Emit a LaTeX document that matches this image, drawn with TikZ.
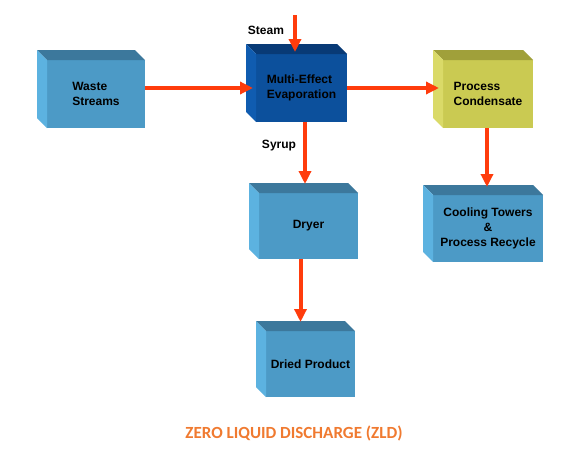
\documentclass[tikz,border=0pt]{standalone}
\usepackage{fontspec}
\setmainfont{Liberation Sans}
\newfontfamily\titlefont{Carlito}
\usetikzlibrary{arrows.meta,calc}
\definecolor{bluefront}{RGB}{76,154,198}
\definecolor{bluetop}{RGB}{60,120,156}
\definecolor{blueleft}{RGB}{92,178,224}
\definecolor{meefront}{RGB}{12,80,156}
\definecolor{meetop}{RGB}{8,58,118}
\definecolor{meeleft}{RGB}{16,92,176}
\definecolor{pcfront}{RGB}{202,202,82}
\definecolor{pctop}{RGB}{160,160,58}
\definecolor{pcleft}{RGB}{218,218,104}
\definecolor{flowred}{RGB}{255,60,12}
\definecolor{titleorange}{RGB}{240,122,48}
\tikzset{
  front/.style={inner sep=0pt, outer sep=0pt, font=\fontsize{12}{15}\selectfont\bfseries},
  flow/.style={draw=flowred, line width=4pt, -{Triangle[length=13pt,width=12pt]}},
  lbl/.style={font=\fontsize{12}{15}\selectfont\bfseries, inner sep=0pt},
}
% faces of a box: node name, top colour, left colour
\newcommand\cubefaces[3]{%
  \fill[#2] (#1.north west) -- (#1.north east) -- ($(#1.north east)+(-10,-10)$) -- ($(#1.north west)+(-10,-10)$) -- cycle;
  \fill[#3] (#1.north west) -- ($(#1.north west)+(-10,-10)$) -- ($(#1.south west)+(-10,-10)$) -- (#1.south west) -- cycle;
}
\begin{document}
\begin{tikzpicture}[x=1pt,y=-1pt]
\useasboundingbox (0,0) rectangle (584,450);
\fill[white] (0,0) rectangle (584,450);

\node[front, fill=bluefront, minimum width=98pt, minimum height=68pt, align=left] (ws) at (96,94) {Waste\\Streams};
\cubefaces{ws}{bluetop}{blueleft}

\node[front, fill=meefront, minimum width=91pt, minimum height=68pt, align=left] (mee) at (301.5,88) {Multi-Effect\\Evaporation};
\cubefaces{mee}{meetop}{meeleft}

\node[front, fill=pcfront, minimum width=90pt, minimum height=68pt, align=left] (pc) at (488,94) {Process\\Condensate};
\cubefaces{pc}{pctop}{pcleft}

\node[front, fill=bluefront, minimum width=110pt, minimum height=67pt, align=center] (ct) at (488,228.5) {Cooling Towers\\\&\\Process Recycle};
\cubefaces{ct}{bluetop}{blueleft}

\node[front, fill=bluefront, minimum width=99pt, minimum height=66pt] (dryer) at (308.5,226) {Dryer};
\cubefaces{dryer}{bluetop}{blueleft}

\node[front, fill=bluefront, minimum width=89pt, minimum height=66pt] (dp) at (310.5,364) {Dried Product};
\cubefaces{dp}{bluetop}{blueleft}

\node[lbl] (steam) at (266,30) {Steam};
\node[lbl] (syrup) at (279,146) {Syrup};

\coordinate (steamsrc) at (295,15);
\draw[flow] (steamsrc) -- ($(steamsrc |- mee.north)+(0,-2)$);
\draw[flow] ($(ws.east)+(0,-6)$) -- ($(ws.east -| mee.west)+(-3,-6)$);
\draw[flow] (mee.east) -- ($(mee.east -| pc.west)+(-4,0)$);
\draw[flow] ($(mee.south)+(3.5,0)$) -- ($(mee.south |- dryer.north)+(3.5,-9)$);
\draw[flow] ($(pc.south)+(-1,0)$) -- ($(pc.south |- ct.north)+(-1,-8)$);
\draw[flow] ($(dryer.south)+(-8,0)$) -- ($(dryer.south |- dp.north)+(-8,-9)$);

\node[font=\titlefont\fontsize{17}{20}\selectfont\bfseries, text=titleorange, inner sep=0pt] (title) at (294,433) {ZERO LIQUID DISCHARGE (ZLD)};
\end{tikzpicture}
\end{document}
